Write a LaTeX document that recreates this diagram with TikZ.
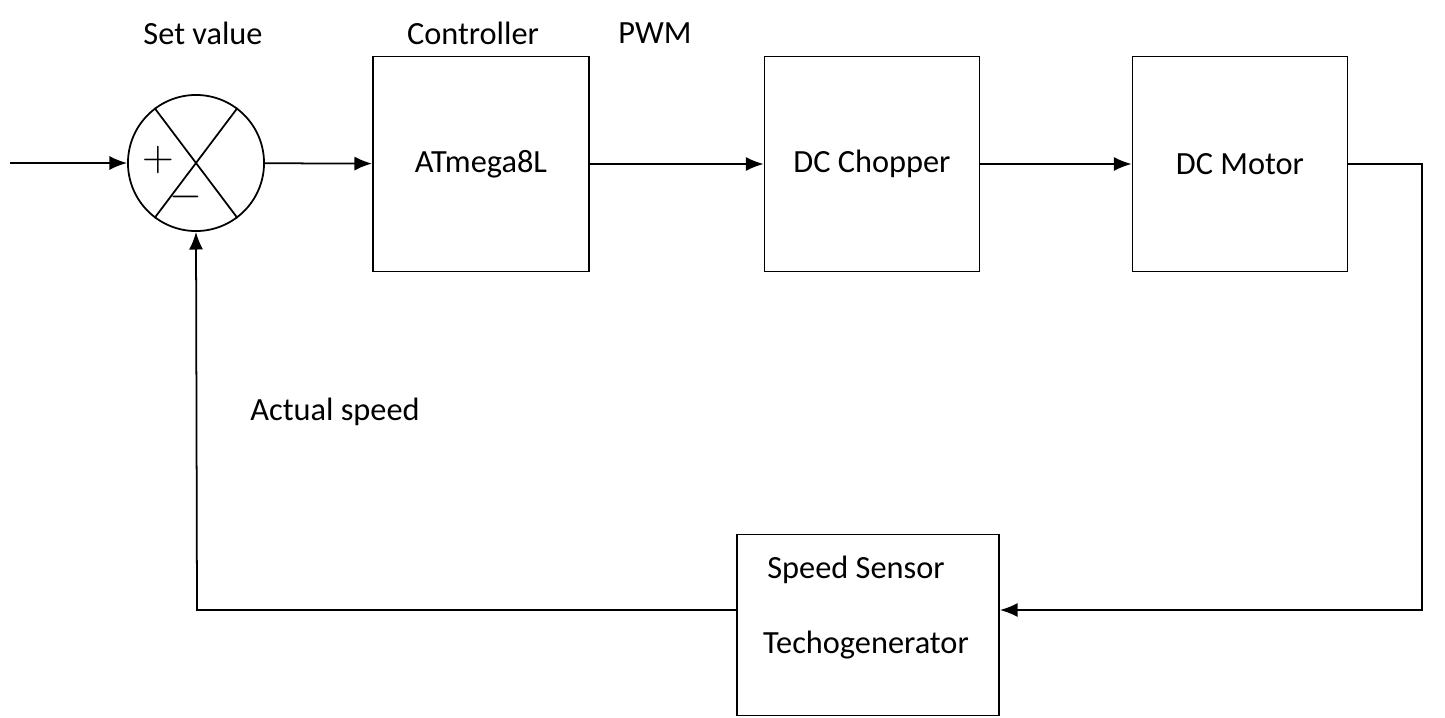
\documentclass[tikz,border=0pt]{standalone}
\usepackage{fontspec}
\setmainfont{Carlito}
\usetikzlibrary{arrows.meta}
\begin{document}
\begin{tikzpicture}[x=0.01cm,y=-0.01cm,font=\fontsize{9.2}{11}\selectfont,
    block/.style={draw,line width=0.5pt,inner sep=0pt},
    sig/.style={-{Latex[length=5pt,width=4pt]},line width=0.5pt}]
    \useasboundingbox (0,0) rectangle (1445,718);
    % Summierer
    \node[draw,circle,minimum size=1.36cm,inner sep=0pt,line width=0.5pt] (sum) at (196,163) {};
    \draw[line width=0.5pt] (sum.127) -- (sum.-53);
    \draw[line width=0.5pt] (sum.53) -- (sum.-127);
    \node at (158,160) {\fontsize{13}{13}\selectfont $+$};
    \node at (186,197) {\fontsize{13}{13}\selectfont $-$};
    \coordinate (in) at (10,163);
    % Bloecke
    \node[block,minimum width=2.16cm,minimum height=2.15cm] (ctrl) at (481,164) {ATmega8L};
    \node[block,minimum width=2.15cm,minimum height=2.15cm] (chop) at (872,164) {DC Chopper};
    \node[block,minimum width=2.15cm,minimum height=2.15cm] (motor) at (1240,164) {DC Motor};
    \node[block,minimum width=2.62cm,minimum height=1.81cm] (sens) at (868,625) {};
    \node at (856,570) {Speed Sensor};
    \node at (866,645) {Techogenerator};
    % Beschriftungen
    \node at (203,33) {Set value};
    \node at (473,33) {Controller};
    \node at (655,33) {PWM};
    \node at (335,412) {Actual speed};
    % Verbindungen
    \draw[sig] (in) -- (sum);
    \draw[sig] (sum) -- (ctrl);
    \draw[sig] (ctrl) -- (chop);
    \draw[sig] (chop) -- (motor);
    \coordinate (r1) at (1422,164);
    \coordinate (r2) at (1422,610);
    \draw[sig] (motor.east) -- (r1) -- (r2) -- (sens.east |- r2);
    \coordinate (l1) at (197,610);
    \draw[sig] (sens.west |- l1) -- (l1) -- (sum.south);
\end{tikzpicture}
\end{document}
